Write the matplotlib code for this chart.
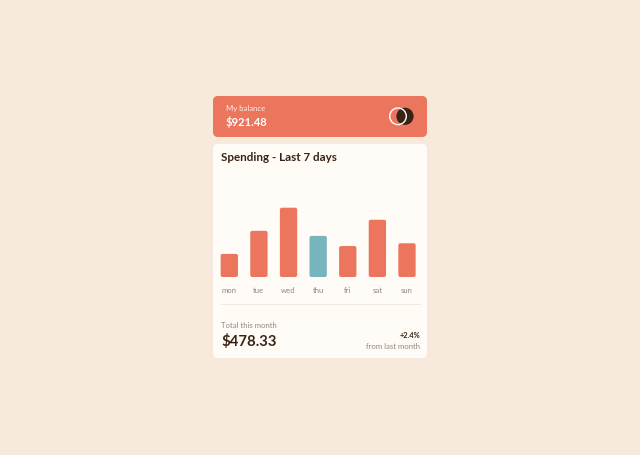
import matplotlib
matplotlib.use('Agg')
import matplotlib.pyplot as plt
from matplotlib.patches import FancyBboxPatch, Circle

# data
days = ['mon', 'tue', 'wed', 'thu', 'fri', 'sat', 'sun']
amounts = [17.45, 34.91, 52.36, 31.07, 23.39, 43.28, 25.48]
highlight_day = 'thu'
balance = '$921.48'
total_month = '$478.33'
change = '+2.4%'

# colours
BG = '#F8E9DD'
RED = '#EC755D'
CYAN = '#76B5BC'
DARK = '#382314'
BROWN = '#93867B'
CARD = '#FFFCF7'

W, H = 640, 455
plt.rcParams['font.family'] = ['Lato', 'DejaVu Sans']

fig = plt.figure(figsize=(W / 100, H / 100), dpi=100, facecolor=BG)

# background axes in pixel units
bg = fig.add_axes([0, 0, 1, 1])
bg.set_xlim(0, W)
bg.set_ylim(H, 0)
bg.axis('off')


def card(x, y, w, h, color):
    bg.add_patch(FancyBboxPatch((x, y), w, h, boxstyle='round,pad=0,rounding_size=5',
                                fc=color, ec='none'))


card(213, 96, 214, 41, RED)
card(213, 144, 214, 214, CARD)

bg.text(226, 108.5, 'My balance', fontsize=5.6, color='#FDEEE6', va='center')
bg.text(226, 121.5, balance, fontsize=8.0, color='white', weight='bold', va='center')
bg.add_patch(Circle((405, 116.3), 8.6, fc=DARK, ec='none'))
bg.add_patch(Circle((398, 116.3), 8.3, fc='none', ec='white', lw=1.0))

bg.text(221, 157.5, 'Spending - Last 7 days', fontsize=8.4, color=DARK, weight='bold', va='center')

bg.plot([221, 420], [303.5, 303.5], color='#F3E8DE', lw=0.8)
bg.text(221, 325, 'Total this month', fontsize=5.6, color=BROWN, va='center')
bg.text(221, 341, total_month, fontsize=10.7, color=DARK, weight='bold', va='center')
bg.text(420, 335.5, change, fontsize=5.4, color=DARK, weight='bold', va='center', ha='right')
bg.text(420, 346.5, 'from last month', fontsize=5.6, color=BROWN, va='center', ha='right')

# bar chart axes
left, right, bottom, top = 214.5, 421.8, 277, 187
ax = fig.add_axes([left / W, 1 - bottom / H, (right - left) / W, (bottom - top) / H])
ax.set_xlim(-0.5, len(days) - 0.5)
ymax = max(amounts) * (bottom - top) / 69.3
ax.set_ylim(0, ymax)
ax.patch.set_alpha(0)
for s in ax.spines.values():
    s.set_visible(False)
ax.set_yticks([])

colors = [CYAN if d == highlight_day else RED for d in days]
bars = ax.bar(range(len(days)), amounts, width=0.585, color=colors)

# swap the plain bars for rounded ones of the same size
px_x = (len(days)) / (right - left)
px_y = ymax / (bottom - top)
for b, c in zip(bars, colors):
    b.set_visible(False)
    ax.add_patch(FancyBboxPatch((b.get_x(), 0), b.get_width(), b.get_height(),
                                boxstyle='round,pad=0,rounding_size=%f' % (2 * px_x),
                                mutation_aspect=px_y / px_x, fc=c, ec='none'))

ax.set_xticks(range(len(days)))
ax.set_xticklabels(days, fontsize=5.6, color=BROWN)
ax.tick_params(axis='x', length=0, pad=7.5)

fig.savefig('out.png', dpi=100, facecolor=BG)
